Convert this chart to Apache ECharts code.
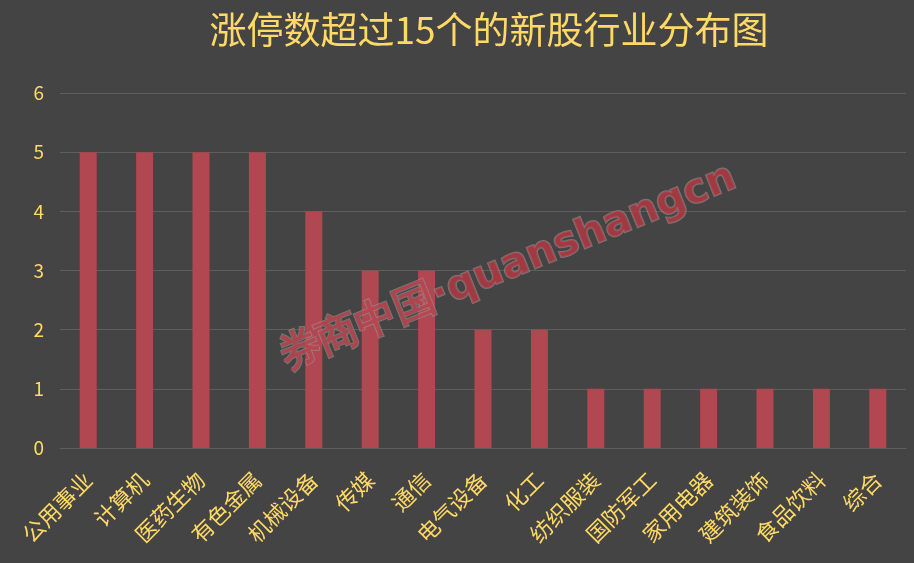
<!DOCTYPE html>
<html><head><meta charset="utf-8">
<script src="https://cdn.jsdelivr.net/npm/echarts@6/dist/echarts.min.js"></script>
<style>html,body{margin:0;padding:0;background:#444444;}#c{width:914px;height:563px;}</style>
</head><body><div id="c"></div>
<script>
const titleText = '涨停数超过15个的新股行业分布图';
const categories = ['公用事业','计算机','医药生物','有色金属','机械设备','传媒','通信','电气设备','化工','纺织服装','国防军工','家用电器','建筑装饰','食品饮料','综合'];
const values = [5,5,5,5,4,3,3,2,2,1,1,1,1,1,1];
const yTicks = [0,1,2,3,4,5,6];
const watermark = '券商中国·quanshangcn';

const chart = echarts.init(document.getElementById('c'), null, {renderer:'canvas'});
const font = '"Noto Sans CJK SC", "Microsoft YaHei", sans-serif';
chart.setOption({
  backgroundColor:'#444444',
  animation:false,
  title:{text:titleText,left:484,top:6,textAlign:'center',
    textStyle:{color:'#ffd966',fontSize:37,fontWeight:'normal',fontFamily:font}},
  grid:{left:60,right:8,top:93,bottom:115},
  xAxis:{type:'category',data:categories,
    axisLine:{show:true,lineStyle:{color:'#5e5e5e',width:1}},
    axisTick:{show:false},
    axisLabel:{color:'#ffd966',fontSize:22,fontFamily:font,rotate:45,interval:0,margin:28}},
  yAxis:{type:'value',min:yTicks[0],max:yTicks[yTicks.length-1],interval:1,
    axisLine:{show:false},axisTick:{show:false},
    axisLabel:{color:'#ffd966',fontSize:19,fontFamily:font,margin:16,align:'right'},
    splitLine:{lineStyle:{color:'#5e5e5e',width:1}}},
  series:[{type:'bar',data:values,barWidth:17,itemStyle:{color:'#b14751'}}],
  graphic:[{type:'text',x:508,y:268,rotation:22*Math.PI/180,
    style:{text:watermark,fill:'rgba(190,55,65,0.75)',stroke:'rgba(150,150,150,0.6)',lineWidth:2,
      font:'bold 41px "DejaVu Sans", sans-serif',textAlign:'center',textVerticalAlign:'middle'},z:100}]
});
</script></body></html>
